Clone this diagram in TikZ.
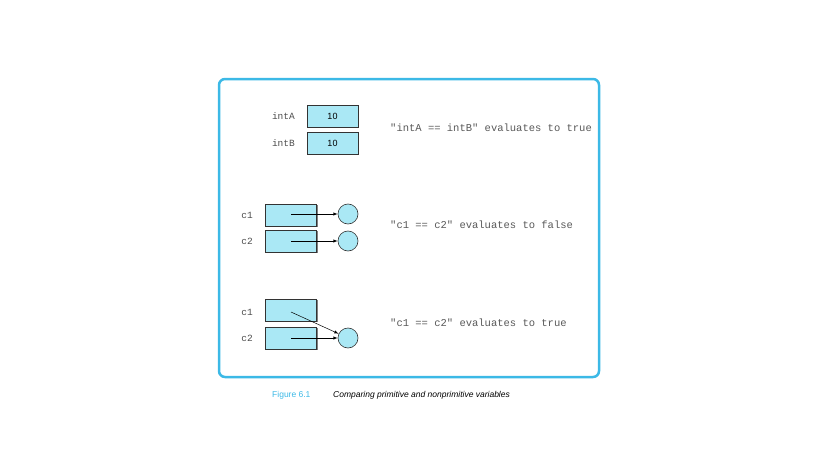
\documentclass[tikz,border=0pt]{standalone}
\usepackage{fontspec}
\setmainfont{Liberation Sans}
\newfontfamily\codefont{Liberation Mono}
\begin{document}
\begin{tikzpicture}[x=1pt,y=-1pt,
  cell/.style={draw=black!80,fill=cyanlt,minimum width=51pt,minimum height=22pt,inner sep=0pt,line width=0.6pt},
  obj/.style={circle,draw=black!80,fill=cyanlt,minimum size=20pt,inner sep=0pt,line width=0.6pt},
  code/.style={font=\codefont\fontsize{10.5}{12}\selectfont,text=black!65,inner sep=0pt},
  lab/.style={font=\codefont\fontsize{9.5}{11}\selectfont,text=black!70,inner sep=0pt},
  ptr/.style={-latex,line width=0.5pt}]
\definecolor{cyanlt}{RGB}{170,232,245}
\definecolor{frame}{RGB}{60,185,230}
\useasboundingbox (0,0) rectangle (819,460);
\draw[frame,line width=2.5pt,rounded corners=6pt] (219,79) rectangle (599,377);
% primitives
\node[cell,font=\fontsize{9}{10}\selectfont] (ia) at (332.5,116) {10};
\node[cell,font=\fontsize{9}{10}\selectfont] (ib) at (332.5,143) {10};
\node[lab,anchor=east] (la) at (295,116) {intA};
\node[lab,anchor=east] (lb) at (295,143) {intB};
\node[code,anchor=west] (t1) at (390,128) {"intA == intB" evaluates to true};
% second
\node[cell] (b1) at (291,215) {};
\node[cell] (b2) at (291,241) {};
\draw[black!50,line width=1pt] (317.5,205) -- (317.5,226.5) (317.5,231) -- (317.5,252.5);
\node[obj] (o1) at (348,214) {};
\node[obj] (o2) at (348,241) {};
\coordinate (s1) at (291,214);
\coordinate (s2) at (291,241);
\draw[ptr] (s1) -- (o1);
\draw[ptr] (s2) -- (o2);
\node[lab,anchor=east] (l1) at (253,215) {c1};
\node[lab,anchor=east] (l2) at (253,241) {c2};
\node[code,anchor=west] (t2) at (390,225) {"c1 == c2" evaluates to false};
% third
\node[cell] (b3) at (291,310) {};
\node[cell] (b4) at (291,338) {};
\draw[black!50,line width=1pt] (317.5,300) -- (317.5,321.5) (317.5,328) -- (317.5,349.5);
\node[obj] (o3) at (348,338) {};
\coordinate (s3) at (291,312);
\coordinate (s4) at (291,338);
\draw[ptr] (s3) -- (o3);
\draw[ptr] (s4) -- (o3);
\node[lab,anchor=east] (l3) at (253,312) {c1};
\node[lab,anchor=east] (l4) at (253,338) {c2};
\node[code,anchor=west] (t3) at (390,323) {"c1 == c2" evaluates to true};
% caption
\node[anchor=west,inner sep=0pt,text=frame,font=\fontsize{8.5}{10}\selectfont] (cap1) at (272,395) {Figure 6.1};
\node[anchor=west,inner sep=0pt,font=\itshape\fontsize{8.5}{10}\selectfont] (cap2) at (333,395) {Comparing primitive and nonprimitive variables};
\end{tikzpicture}
\end{document}
